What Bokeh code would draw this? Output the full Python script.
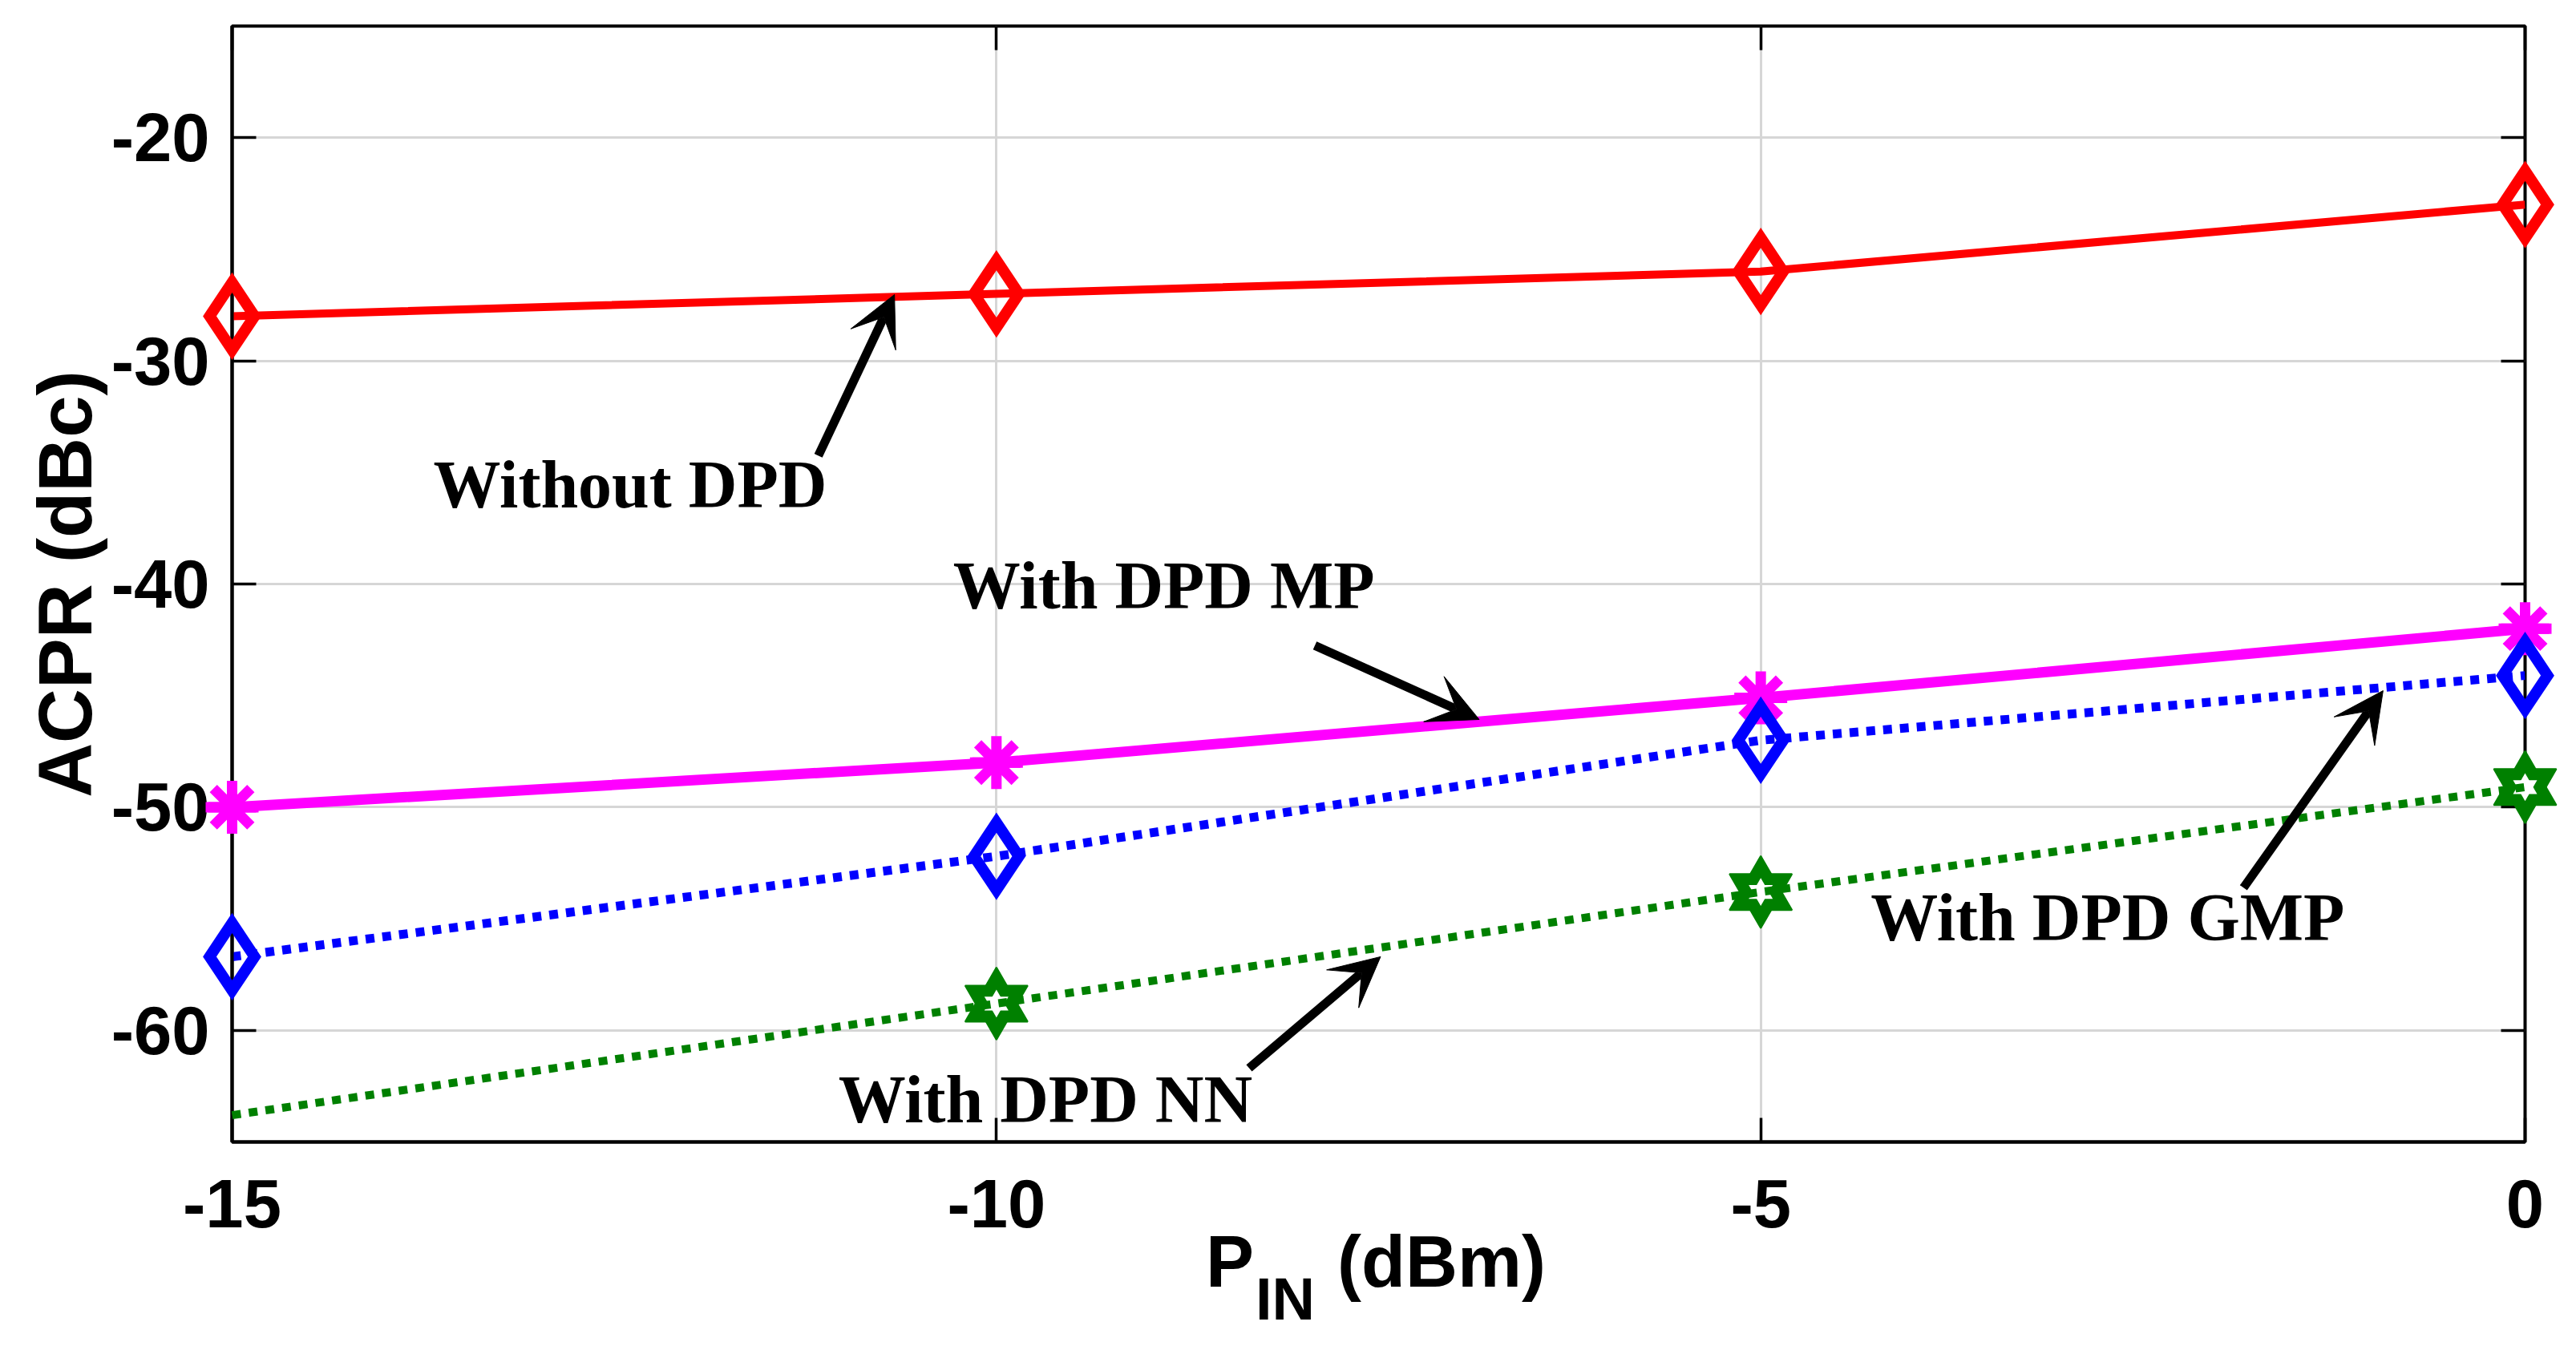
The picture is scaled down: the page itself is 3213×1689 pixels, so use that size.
from bokeh.plotting import figure
from bokeh.models import (ColumnDataSource, Range1d, LinearAxis, FixedTicker, Label,
                          Arrow, VeeHead, CDSView, IndexFilter)
from bokeh.core.properties import value
from bokeh.embed import file_html
from bokeh.resources import INLINE

# ---- data ----
pin = [-15, -10, -5, 0]
acpr_without = [-28.0, -27.0, -26.0, -23.0]
acpr_mp = [-50.0, -48.0, -45.1, -42.0]
acpr_gmp = [-56.7, -52.2, -47.0, -44.1]
acpr_nn = [-63.8, -58.8, -53.8, -49.1]
x_ticks = [-15, -10, -5, 0]
y_ticks = [-60, -50, -40, -30, -20]

RED, MAG, BLUE, GREEN = "#ff0000", "#ff00ff", "#0000ff", "#008000"

p = figure(width=3197, height=1673, x_range=Range1d(-15, 0), y_range=Range1d(-65, -15),
           output_backend="svg", toolbar_location=None,
           min_border_left=289, min_border_right=48, min_border_top=32, min_border_bottom=249,
           background_fill_color="white", border_fill_color="white")
p.outline_line_color = "black"
p.outline_line_width = 4

# axes
for ax, ticks in ((p.xaxis[0], x_ticks), (p.yaxis[0], y_ticks)):
    ax.ticker = FixedTicker(ticks=ticks)
    ax.major_label_overrides = {t: str(t) for t in ticks}
    ax.major_tick_in = 30
    ax.major_tick_out = 0
    ax.minor_tick_line_color = None
    ax.axis_line_width = 4
    ax.axis_line_color = "black"
    ax.major_tick_line_width = 3.5
    ax.major_tick_line_color = "black"
    ax.major_label_text_font = "Liberation Sans"
    ax.major_label_text_font_style = "bold"
    ax.major_label_text_font_size = "85px"
    ax.major_label_text_color = "black"

p.xaxis.major_label_standoff = 47
p.xaxis.axis_label = None
p.yaxis.major_label_standoff = 28
p.yaxis.axis_label = "ACPR (dBc)"
p.yaxis.axis_label_text_font = "Liberation Sans"
p.yaxis.axis_label_text_font_style = "bold"
p.yaxis.axis_label_text_font_size = "94px"
p.yaxis.axis_label_text_color = "black"
p.yaxis.axis_label_standoff = 2

for loc, ticks in (("above", x_ticks), ("right", y_ticks)):
    ax = LinearAxis(ticker=FixedTicker(ticks=ticks), major_tick_in=30, major_tick_out=0,
                    minor_tick_line_color=None, axis_line_color=None,
                    major_tick_line_width=3.5, major_tick_line_color="black",
                    major_label_text_font_size="1px", major_label_text_alpha=0,
                    major_label_standoff=0)
    p.add_layout(ax, loc)

# grid
p.xgrid.ticker = FixedTicker(ticks=x_ticks)
p.ygrid.ticker = FixedTicker(ticks=y_ticks)
for g in (p.xgrid[0], p.ygrid[0]):
    g.grid_line_color = "#d6d6d6"
    g.grid_line_width = 3

src_wo = ColumnDataSource(dict(x=pin, y=acpr_without))
src_mp = ColumnDataSource(dict(x=pin, y=acpr_mp))
src_gmp = ColumnDataSource(dict(x=pin, y=acpr_gmp))
src_nn = ColumnDataSource(dict(x=pin, y=acpr_nn))

# Without DPD
p.line("x", "y", source=src_wo, line_color=RED, line_width=10)
p.scatter("x", "y", source=src_wo, marker="diamond", size=84, fill_color=None,
          line_color=RED, line_width=14, line_join="miter", level="overlay")

# With DPD MP
p.line("x", "y", source=src_mp, line_color=MAG, line_width=13)
p.scatter("x", "y", source=src_mp, marker="asterisk", size=66, line_color=MAG,
          line_width=13, level="overlay")
p.scatter("x", "y", source=src_mp, marker="dash", size=60, line_color=MAG,
          line_width=13, level="overlay")

# With DPD GMP
p.line("x", "y", source=src_gmp, line_color=BLUE, line_width=11, line_dash="11 10")
p.scatter("x", "y", source=src_gmp, marker="diamond", size=84, fill_color=None,
          line_color=BLUE, line_width=14, line_join="miter", level="overlay")

# With DPD NN (no marker on the first point)
nn_view = CDSView(filter=IndexFilter([1, 2, 3]))
for m in ("triangle", "inverted_triangle"):
    p.scatter("x", "y", source=src_nn, view=nn_view, marker=m, size=78,
              fill_color=GREEN, line_color=GREEN, line_width=2, level="overlay")
for m in ("triangle", "inverted_triangle"):
    p.scatter("x", "y", source=src_nn, view=nn_view, marker=m, size=30,
              fill_color="white", line_color=None, level="overlay")
p.line("x", "y", source=src_nn, line_color=GREEN, line_width=10, line_dash="11 10",
       level="overlay")

# annotations
def note(x, y, txt):
    p.add_layout(Label(x=x, y=y, text=txt, text_font="Liberation Serif",
                       text_font_style="bold", text_font_size="84px", text_color="black",
                       text_baseline="alphabetic", text_align="left", level="overlay"))

def arrow(xs, ys, xe, ye):
    p.add_layout(Arrow(end=VeeHead(size=62, fill_color="black", line_color="black"),
                       x_start=xs, y_start=ys, x_end=xe, y_end=ye,
                       line_color="black", line_width=11, level="overlay"))

note(-13.683, -35.55, "Without DPD")
arrow(-11.165, -34.25, -10.667, -27.03)
note(-10.283, -40.08, "With DPD MP")
arrow(-7.917, -42.76, -6.842, -46.07)
note(-4.281, -54.94, "With DPD GMP")
arrow(-1.842, -53.61, -0.929, -44.78)
note(-11.034, -63.10, "With DPD NN")
arrow(-8.347, -61.69, -7.487, -56.70)

# x axis label with subscript: drawn as text glyphs (overlay level is not clipped)
def xl(x, y, txt, size):
    p.text(x=[x], y=[y], text=[txt], text_font=value("Liberation Sans"),
           text_font_style="bold", text_font_size=value(size), text_color="black",
           text_baseline="alphabetic", text_align="left", level="overlay")

xl(-8.63, -70.38, "P", "90px")
xl(-8.305, -72.03, "IN", "74px")
xl(-7.77, -70.38, "(dBm)", "90px")

open("out.html", "w").write(file_html(p, INLINE))
